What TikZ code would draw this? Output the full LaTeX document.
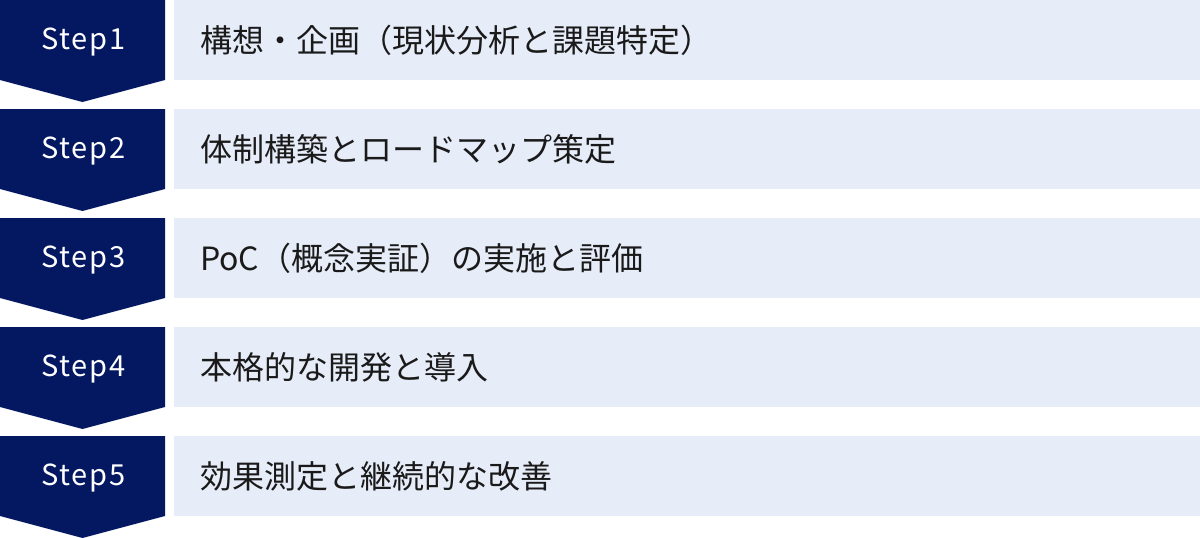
\documentclass[tikz,border=0pt]{standalone}
\usepackage{fontspec}
\setmainfont{Noto Sans CJK JP}
\newfontfamily\stepfont[LetterSpace=6]{Noto Sans CJK JP}
\usepackage{tikz}
\definecolor{navy}{HTML}{041862}
\definecolor{paleblue}{HTML}{E6ECF8}
\definecolor{ink}{HTML}{1A1A1A}
\tikzstyle{chevron}=[fill=navy]
\tikzstyle{band}=[fill=paleblue]
\tikzstyle{steplabel}=[text=white,font=\stepfont\fontsize{29}{34}\selectfont]
\tikzstyle{title}=[anchor=west,inner sep=0pt,text=ink,font=\fontsize{32}{38}\selectfont]

\begin{document}
\begin{tikzpicture}[x=1pt,y=-1pt]
        \useasboundingbox (0,0) rectangle (1200,538);
        % step 1
        \fill [chevron] (0,0) -- (165,0) -- (165,80) -- (82.5,102) -- (0,80) -- cycle;
        \fill [band] (174,0) rectangle (1200,80);
        \node at (83.5,42) [steplabel] (s1) {Step1};
        \node at (200,40) [title] (t1) {構想・企画（現状分析と課題特定）};
        % step 2
        \fill [chevron] (0,109) -- (165,109) -- (165,189) -- (82.5,211) -- (0,189) -- cycle;
        \fill [band] (174,109) rectangle (1200,189);
        \node at (83.5,151) [steplabel] (s2) {Step2};
        \node at (200,149) [title] (t2) {体制構築とロードマップ策定};
        % step 3
        \fill [chevron] (0,218) -- (165,218) -- (165,298) -- (82.5,320) -- (0,298) -- cycle;
        \fill [band] (174,218) rectangle (1200,298);
        \node at (83.5,260) [steplabel] (s3) {Step3};
        \node at (200,258) [title] (t3) {PoC（概念実証）の実施と評価};
        % step 4
        \fill [chevron] (0,327) -- (165,327) -- (165,407) -- (82.5,429) -- (0,407) -- cycle;
        \fill [band] (174,327) rectangle (1200,407);
        \node at (83.5,369) [steplabel] (s4) {Step4};
        \node at (200,367) [title] (t4) {本格的な開発と導入};
        % step 5
        \fill [chevron] (0,436) -- (165,436) -- (165,516) -- (82.5,538) -- (0,516) -- cycle;
        \fill [band] (174,436) rectangle (1200,516);
        \node at (83.5,478) [steplabel] (s5) {Step5};
        \node at (200,476) [title] (t5) {効果測定と継続的な改善};
      \end{tikzpicture}
\end{document}
